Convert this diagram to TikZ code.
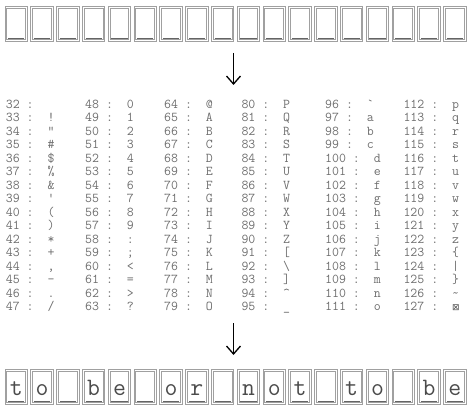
\documentclass[tikz,border=0pt]{standalone}
\usepackage{fontspec}
\usetikzlibrary{arrows.meta}
\newfontfamily\symfont{DejaVu Sans}
\definecolor{boxgray}{RGB}{160,160,160}
\definecolor{linegray}{RGB}{100,100,100}
\definecolor{txtgray}{RGB}{110,110,110}
\definecolor{chargray}{RGB}{75,75,75}
\tikzset{
 cell/.style={minimum width=22.5pt, minimum height=35pt, inner sep=0pt, draw=boxgray, line width=0.9pt,
  text=chargray, font=\fontsize{25}{25}\selectfont\ttfamily, text height=16.6pt, text depth=0pt,
  path picture={
   \draw[boxgray,line width=0.9pt] ([shift={(1.8pt,1.8pt)}]path picture bounding box.south west) rectangle ([shift={(-1.8pt,-1.8pt)}]path picture bounding box.north east);
   \draw[linegray,line width=1.3pt] ([shift={(3.2pt,3pt)}]path picture bounding box.south west) -- ([shift={(-3.2pt,3pt)}]path picture bounding box.south east);
  }},
 tab/.style={anchor=base west, inner sep=0pt, text=txtgray, font=\fontsize{13.5}{14}\selectfont\ttfamily},
 flow/.style={line width=1.3pt, -{Straight Barb[length=8pt,width=14pt]}}
}
\begin{document}
\begin{tikzpicture}[x=1pt,y=-1pt]
\useasboundingbox (0,0) rectangle (474,412);
% top row
\foreach \i in {0,...,17} {
  \node[cell] (top\i) at (16.25+25.8*\i,24.2) {};
}
% bottom row
\foreach \ch [count=\i from 0] in {t,o,{},b,e,{},o,r,{},n,o,t,{},t,o,{},b,e} {
  \node[cell] (bot\i) at (16.25+25.8*\i,386.75) {\ch};
}
% table
\foreach \x [count=\c from 0] in {5.7,85,164,241.3,325,403.3} {
  \foreach \r in {0,...,15} {
    \pgfmathtruncatemacro\n{32+16*\c+\r}
    \node[tab] (a\n) at (\x,108.1+13.5*\r) {\n\ :\ \ \ifnum\n=127 {\color{chargray}\symfont\fontsize{9}{9}\selectfont\char"22A0}\else\char\n\relax\fi};
  }
}
% arrows
\coordinate (t1) at (233.5,53);
\coordinate (t2) at (233.5,85);
\coordinate (b1) at (233.5,323);
\coordinate (b2) at (233.5,355);
\draw[flow] (t1) -- (t2);
\draw[flow] (b1) -- (b2);
\end{tikzpicture}
\end{document}
